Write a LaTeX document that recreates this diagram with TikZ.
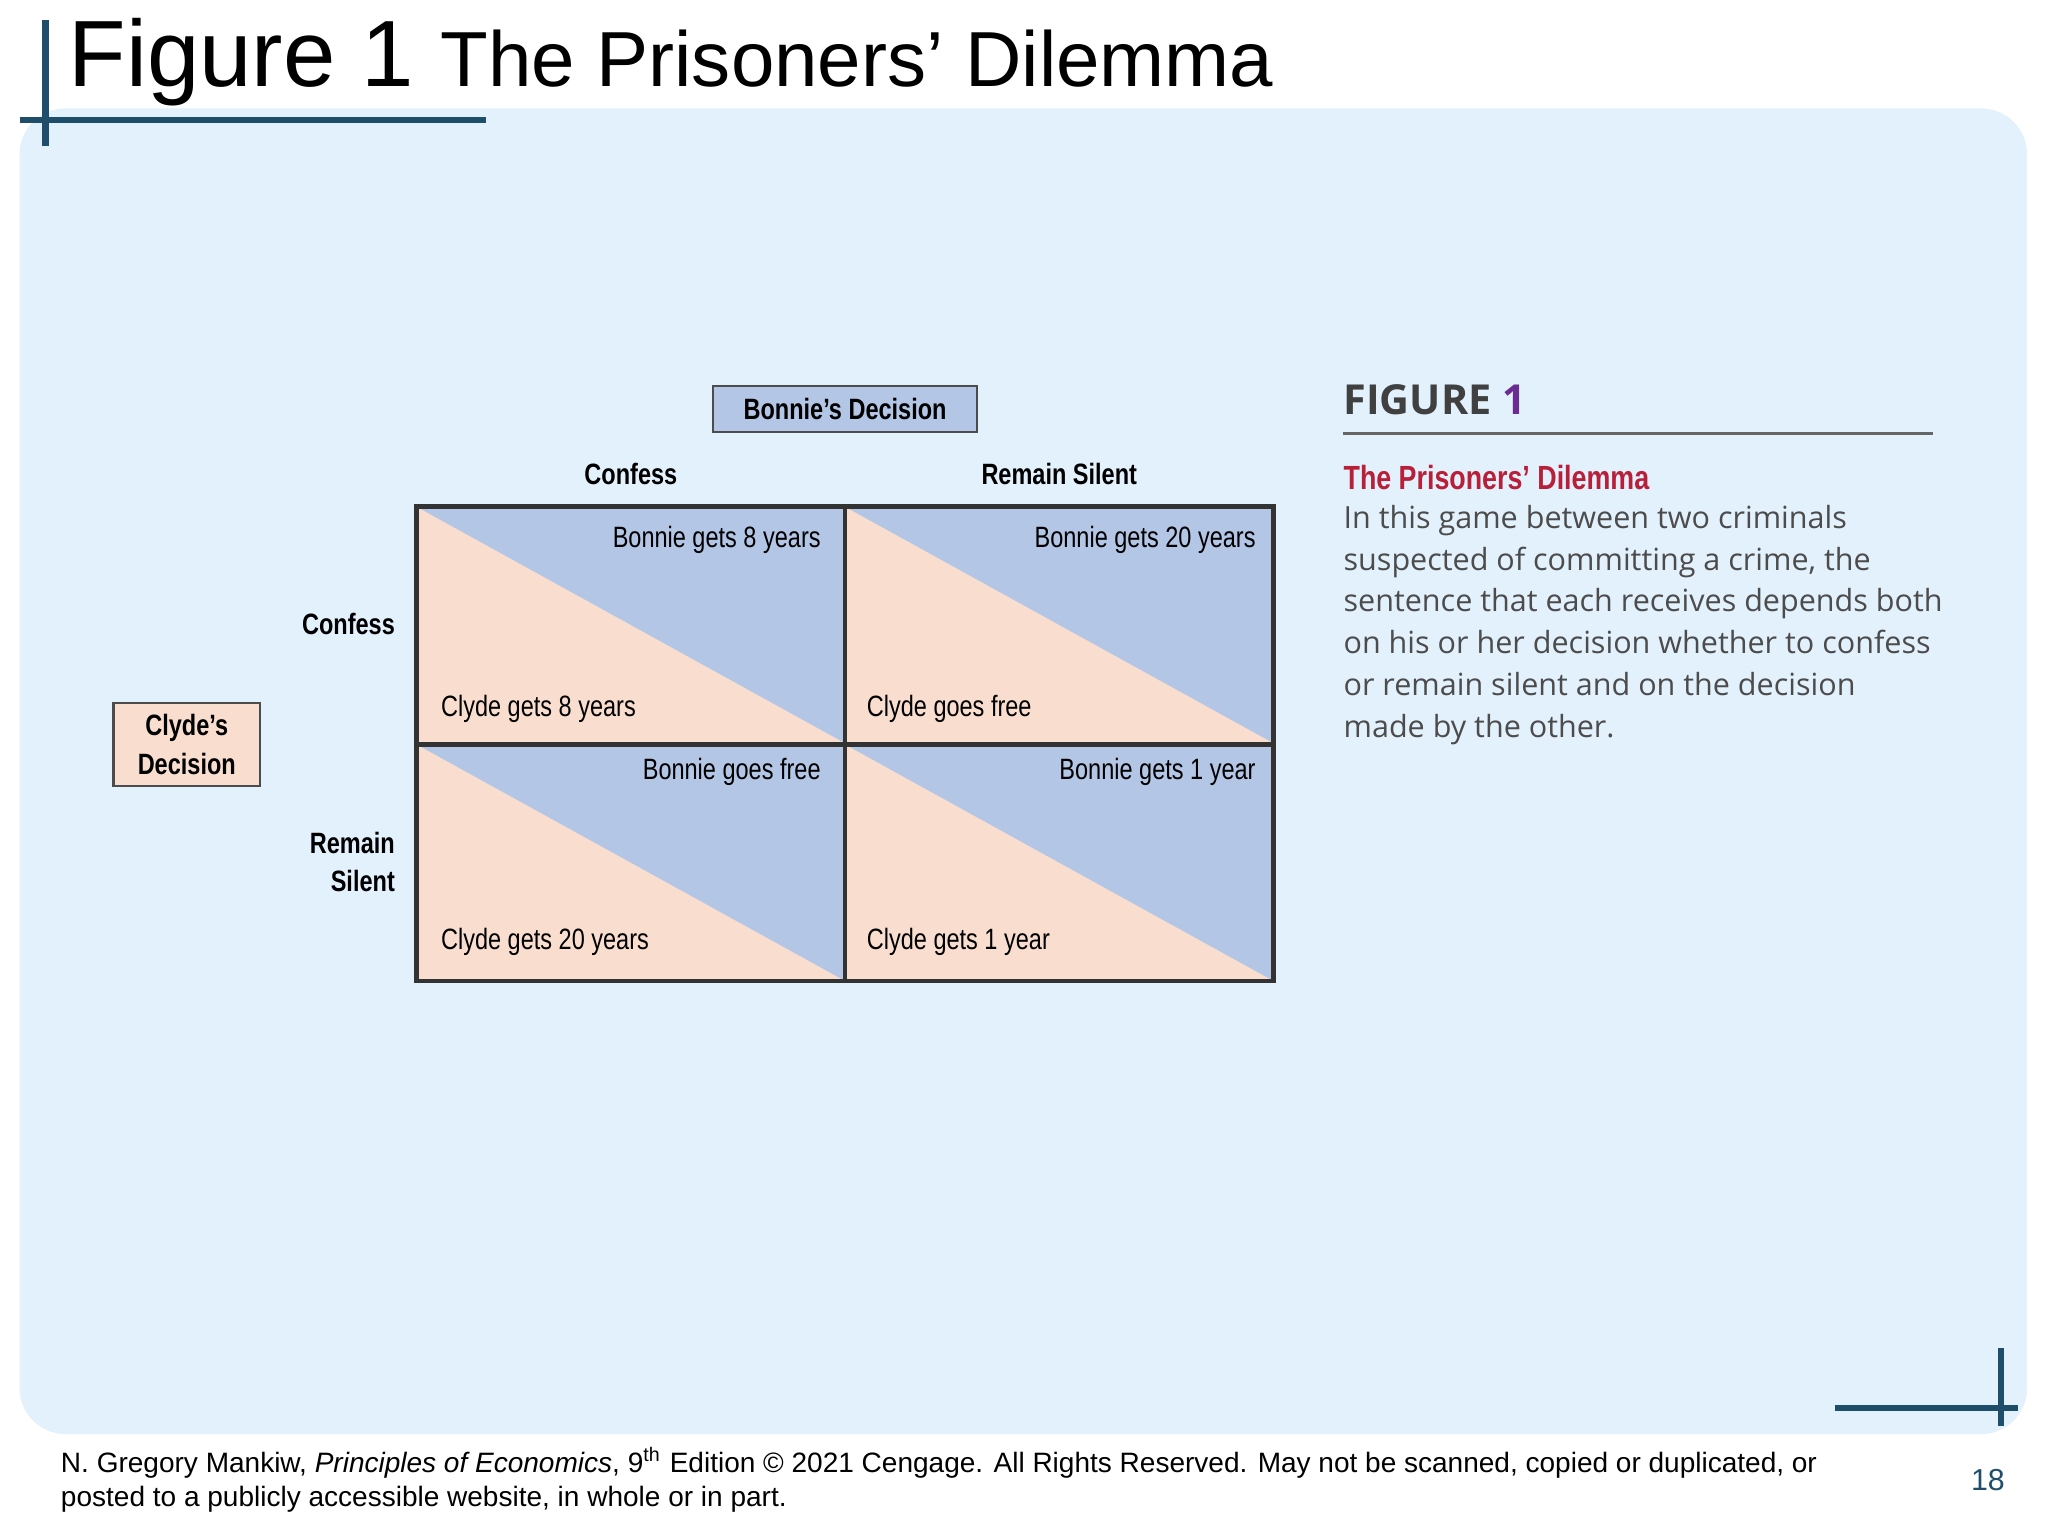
\documentclass[tikz,border=0pt]{standalone}
\usepackage{fontspec}
\setmainfont{Liberation Sans}
\newfontfamily\cond{Liberation Sans}[FakeStretch=0.8]
\newfontfamily\open{Open Sans}
\usetikzlibrary{positioning}
\definecolor{panel}{HTML}{E3F1FD}
\definecolor{teal}{HTML}{1F4E6B}
\definecolor{bluecell}{HTML}{B3C6E6}
\definecolor{peach}{HTML}{F9DECF}
\definecolor{figred}{HTML}{B8203A}
\definecolor{figpurple}{HTML}{6A2C91}
\begin{document}
\begin{tikzpicture}[x=0.01cm,y=-0.01cm]
        % Define styles for shapes
        \tikzset{
            cell/.style={font=\cond\fontsize{6.4}{7}\selectfont, inner sep=0pt},
            head/.style={font=\cond\bfseries\fontsize{6.4}{7}\selectfont, inner sep=0pt},
            decision/.style={draw=black!70, line width=0.5pt, head, inner sep=2pt, align=center},
            para/.style={font=\open\fontsize{6.65}{9.1}\selectfont, text=black!70, anchor=north west, inner sep=0pt, align=left}
        }
        \useasboundingbox (0,0) rectangle (1568,1176);
        \fill[white] (0,0) rectangle (1568,1176);
        % Panel and frame lines
        \fill[panel, rounded corners=10] (15,83) rectangle (1552,1098);
        \draw[teal, line width=1.4pt] (35,15) -- (35,112);
        \draw[teal, line width=1.4pt] (15,92) -- (372,92);
        \draw[teal, line width=1.4pt] (1405,1078) -- (1545,1078);
        \draw[teal, line width=1.4pt] (1532,1032) -- (1532,1092);
        % Title
        \node[anchor=base west, inner sep=0pt] (title) at (52,66)
            {\fontsize{20.5}{22}\selectfont Figure 1 \fontsize{17}{19}\selectfont The Prisoners’ Dilemma};
        % Payoff cells
        \foreach \i/\x in {0/319,1/647} {
            \foreach \j/\y in {0/388,1/570} {
                \fill[peach] (\x,\y) rectangle ++(328,181);
                \fill[bluecell] (\x,\y) -- ++(328,0) -- ++(0,181) -- cycle;
            }
        }
        \draw[line width=1pt, black!80] (319,388) rectangle (975,751);
        \draw[line width=1pt, black!80] (647,388) -- (647,751);
        \draw[line width=1pt, black!80] (319,570) -- (975,570);
        \node[cell, anchor=east] (b11) at (629,413) {Bonnie gets 8 years};
        \node[cell, anchor=west] (c11) at (337,543) {Clyde gets 8 years};
        \node[cell, anchor=east] (b12) at (962,413) {Bonnie gets 20 years};
        \node[cell, anchor=west] (c12) at (663,543) {Clyde goes free};
        \node[cell, anchor=east] (b21) at (629,591) {Bonnie goes free};
        \node[cell, anchor=west] (c21) at (337,721) {Clyde gets 20 years};
        \node[cell, anchor=east] (b22) at (962,591) {Bonnie gets 1 year};
        \node[cell, anchor=west] (c22) at (663,721) {Clyde gets 1 year};
        % Headers
        \node[decision, fill=bluecell, minimum width=202*0.01cm, minimum height=35*0.01cm] (bonnie) at (647,313) {Bonnie’s Decision};
        \node[head] (colconf) at (483,363) {Confess};
        \node[head] (colsil) at (811,363) {Remain Silent};
        \node[head, anchor=east] (rowconf) at (303,478) {Confess};
        \node[head, anchor=east, align=right, font=\cond\bfseries\fontsize{6.4}{8.3}\selectfont] (rowsil) at (303,660) {Remain\\Silent};
        \node[decision, fill=peach, minimum width=112*0.01cm, minimum height=64*0.01cm, font=\cond\bfseries\fontsize{6.4}{8.3}\selectfont] (clyde) at (143,570) {Clyde’s\\Decision};
        % Caption on the right
        \node[anchor=base west, inner sep=0pt, font=\open\fontsize{9}{10}\selectfont, text=black!75] (fig) at (1028,317)
            {\textbf{FIGURE} \textcolor{figpurple}{\bfseries 1}};
        \draw[black!60, line width=0.6pt] (1028,332) -- (1480,332);
        \node[anchor=base west, inner sep=0pt, font=\cond\bfseries\fontsize{7.3}{8}\selectfont, text=figred] (cap) at (1028,375) {The Prisoners’ Dilemma};
        \node[para] (text) at (1028,386) {In this game between two criminals\\suspected of committing a crime, the\\sentence that each receives depends both\\on his or her decision whether to confess\\or remain silent and on the decision\\made by the other.};
        % Footer
        \node[anchor=north west, inner sep=0pt, align=left, font=\fontsize{6.1}{7.4}\selectfont] (foot) at (46,1107)
            {N. Gregory Mankiw, \textit{Principles of Economics}, 9\textsuperscript{th} Edition © 2021 Cengage. All Rights Reserved. May not be scanned, copied or duplicated, or\\posted to a publicly accessible website, in whole or in part.};
        \node[inner sep=0pt, font=\fontsize{6.6}{7}\selectfont, text=teal] (page) at (1522,1133) {18};
\end{tikzpicture}
\end{document}
